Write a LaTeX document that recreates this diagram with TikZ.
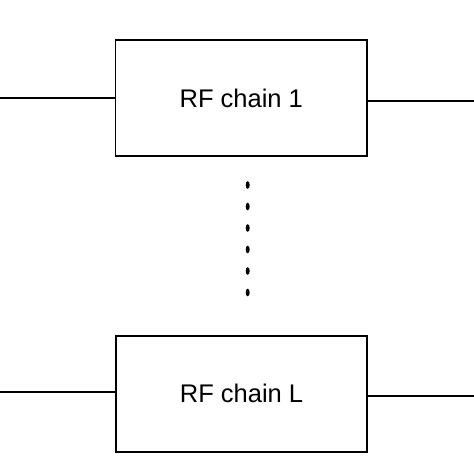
\documentclass[tikz,border=0pt]{standalone}
\usepackage{fontspec}
\setmainfont{Liberation Sans}
\begin{document}
\begin{tikzpicture}[x=1pt,y=-1pt,
  chainbox/.style={draw=black,line width=1.9pt,minimum width=251.5pt,minimum height=115.4pt,inner sep=0pt,outer sep=0pt,font=\fontsize{25.5}{30}\selectfont},
  wire/.style={draw=black,line width=1.9pt},
  dotmark/.style={fill=black,draw=none}]
\useasboundingbox (0,0) rectangle (474,474);
\node[chainbox] (b1) at (241.25,98) {RF chain 1};
\node[chainbox] (b2) at (241.5,393.85) {RF chain L};
\coordinate (l1) at (0,98.3);
\coordinate (r1) at (474,100.7);
\coordinate (l2) at (0,392);
\coordinate (r2) at (474,395.7);
\draw[wire] (l1) -- (l1 -| b1.west);
\draw[wire] (b1.east |- r1) -- (r1);
\draw[wire] (l2) -- (l2 -| b2.west);
\draw[wire] (b2.east |- r2) -- (r2);
\foreach \yy in {185,206.5,228,249.5,271,292.5}
  \fill[dotmark] (247.7,\yy) ellipse [x radius=2pt, y radius=3.8pt];
\end{tikzpicture}
\end{document}
